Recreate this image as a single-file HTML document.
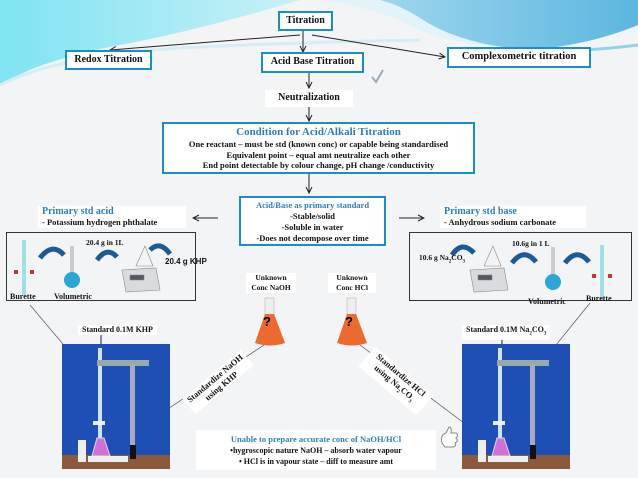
<!DOCTYPE html>
<html><head><meta charset="utf-8"><style>
*{margin:0;padding:0;box-sizing:border-box}
body{width:638px;height:478px;overflow:hidden;background:#f3f4f5;position:relative;font-family:"Liberation Serif",serif;font-weight:bold;color:#111}
.a{position:absolute}
.bx{position:absolute;background:#fff;border:2.5px solid #1a8fc4;text-align:center;font-size:10px;line-height:11px}
.t{position:absolute;font-size:8.5px;line-height:10px;text-align:center;white-space:nowrap}
.blue{color:#2a7fc0}
</style></head><body>
<svg class="a" style="left:0;top:0" width="638" height="478">
<defs><linearGradient id="g1" x1="0" y1="0" x2="1" y2="0"><stop offset="0" stop-color="#7fe3f2"/><stop offset="1" stop-color="#c9f1f7"/></linearGradient>
<linearGradient id="g2" x1="0" y1="0" x2="1" y2="0"><stop offset="0" stop-color="#9ed6ee"/><stop offset="1" stop-color="#5cb6e0"/></linearGradient>
<marker id="ar" markerWidth="8" markerHeight="8" refX="7" refY="4" orient="auto"><path d="M1,1 L7,4 L1,7" fill="none" stroke="#222" stroke-width="1"/></marker></defs>
<path d="M0,0 H300 Q200,30 120,45 Q40,60 0,85 Z" fill="url(#g1)"/>
<path d="M0,85 Q60,55 180,48 Q300,42 420,40" fill="none" stroke="#d4eef5" stroke-width="3"/>
<path d="M320,0 H638 V20 Q600,40 520,48 Q440,45 400,20 Q360,5 320,0 Z" fill="#e2f4fa"/>
<path d="M380,0 H638 V25 Q590,45 530,50 Q460,45 420,18 Q400,5 380,0 Z" fill="url(#g2)"/>
<path d="M638,45 Q560,55 470,50" fill="none" stroke="#8fd3ee" stroke-width="3"/>
<g stroke="#222" stroke-width="1" fill="none" marker-end="url(#ar)">
<line x1="300" y1="35" x2="110" y2="50"/>
<line x1="312" y1="35" x2="445" y2="57"/>
<line x1="303" y1="31" x2="303" y2="52"/>
<line x1="309" y1="72" x2="309" y2="88"/>
<line x1="309" y1="106" x2="309" y2="121"/>
<line x1="309" y1="173" x2="309" y2="193"/>
<line x1="218" y1="218" x2="193" y2="218"/>
<line x1="399" y1="218" x2="424" y2="218"/>
<line x1="101" y1="334" x2="101" y2="354"/>
<line x1="502" y1="334" x2="502" y2="358"/>
</g>
<g stroke="#555" stroke-width="0.7" fill="none">
<line x1="30" y1="305" x2="100" y2="388"/>
<line x1="264" y1="345" x2="106" y2="450"/>
<line x1="360" y1="345" x2="500" y2="450"/>
<line x1="590" y1="303" x2="505" y2="408"/>
</g>
<rect x="62" y="344" width="108" height="125" fill="#1e4fb4"/>
<rect x="462" y="344" width="108" height="125" fill="#1e4fb4"/>
<g id="ph">
<rect x="62" y="455" width="108" height="14" fill="#8a5a3a"/>
<rect x="98" y="348" width="4" height="100" fill="#cfe4ef"/>
<rect x="97" y="360" width="52" height="6" fill="#9aa"/>
<rect x="130" y="364" width="5" height="95" fill="#aab"/>
<rect x="130" y="445" width="6" height="14" fill="#111"/>
<rect x="93" y="421" width="12" height="4" fill="#eee"/>
<path d="M97,438 L92,456 H110 L104,438 Z" fill="#d070d8" stroke="#ddd"/>
<rect x="78" y="440" width="8" height="22" fill="#eee"/>
<rect x="88" y="456" width="40" height="6" fill="#eee"/>
</g>
<use href="#ph" x="400"/>
<g id="fl"><rect x="265" y="298" width="9" height="18" fill="#eee" stroke="#aaa" stroke-width="0.5"/>
<path d="M265,314 L255,343 Q270,348 285,343 L274,314 Z" fill="#ec6a2e"/>
<text x="263" y="326" font-size="13" font-family="Liberation Sans" font-weight="bold">?</text></g>
<use href="#fl" x="82"/>
<g stroke="#1a5a96" stroke-width="5" fill="none">
<path d="M40,258 Q52,242 64,255"/><path d="M97,260 Q107,246 117,257"/><path d="M170,254 Q160,240 150,250"/>
<path d="M452,255 Q462,240 474,253"/><path d="M512,263 Q524,247 536,262"/><path d="M565,263 Q577,247 589,262"/>
</g>
<g fill="#2aa6d8"><rect x="70" y="246" width="4" height="30" fill="#ccc"/><circle cx="72" cy="280" r="8"/>
<rect x="551" y="247" width="4" height="30" fill="#ccc"/><circle cx="553" cy="282" r="8"/></g>
<rect x="22" y="240" width="4" height="55" fill="#9fe0e6"/><rect x="14" y="270" width="4" height="4" fill="#c33"/><rect x="30" y="270" width="4" height="4" fill="#c33"/>
<rect x="600" y="245" width="4" height="55" fill="#9fe0e6"/><rect x="592" y="274" width="4" height="4" fill="#c33"/><rect x="608" y="274" width="4" height="4" fill="#c33"/>
<g fill="#d9dcdf" stroke="#888" stroke-width="0.6">
<path d="M122,270 L156,268 L160,290 L126,292 Z"/><rect x="130" y="275" width="14" height="5" fill="#556"/><path d="M136,266 L145,246 L153,266 Z" fill="#f4f4f4"/>
<path d="M470,270 L504,268 L508,290 L474,292 Z"/><rect x="478" y="275" width="14" height="5" fill="#556"/><path d="M484,266 L493,246 L501,266 Z" fill="#f4f4f4"/>
</g>
<path d="M372,77 L376,82 L383,70" stroke="#9ab" stroke-width="2" fill="none"/>
<g stroke="#888" fill="#fff" stroke-width="1"><path d="M442,443 q-2,-8 4,-10 l3,-6 q3,0 2,6 h5 q3,2 0,5 q3,3 -1,5 q2,3 -2,4 h-8 z"/></g>
</svg>

<div class="bx" style="left:278px;top:11px;width:55px;height:20px;line-height:15px">Titration</div>
<div class="bx" style="left:65px;top:50px;width:87px;height:20px;line-height:15px">Redox Titration</div>
<div class="bx" style="left:261px;top:52px;width:103px;height:21px;line-height:16px">Acid Base Titration</div>
<div class="bx" style="left:447px;top:47px;width:144px;height:21px;line-height:16px;font-size:10.5px">Complexometric titration</div>
<div class="t" style="left:265px;top:90px;width:88px;font-size:10px;background:#fff;height:17px;line-height:15px">Neutralization</div>
<div class="bx" style="left:162px;top:122px;width:313px;height:52px;padding-top:2px;font-size:8.5px;line-height:10.5px">
<div class="blue" style="font-size:11px;line-height:13px">Condition for Acid/Alkali Titration</div>
One reactant – must be std (known conc) or capable being standardised<br>Equivalent point – equal amt neutralize each other<br>End point detectable by colour change, pH change /conductivity</div>
<div class="bx" style="left:239px;top:196px;width:147px;height:50px;padding-top:2px;font-size:8.5px;line-height:11px"><div class="blue">Acid/Base as primary standard</div>-Stable/solid<br>-Soluble in water<br>-Does not decompose over time</div>

<div class="t" style="left:38px;top:206px;text-align:left;background:#fff;padding:0 4px;width:148px;line-height:11px"><span class="blue" style="font-size:10px">Primary std acid</span><br>- Potassium hydrogen phthalate</div>
<div class="t" style="left:440px;top:206px;text-align:left;background:#fff;padding:0 4px;width:146px;line-height:11px"><span class="blue" style="font-size:10px">Primary std base</span><br>- Anhydrous sodium carbonate</div>
<div class="a" style="left:6px;top:232px;width:190px;height:69px;border:1.5px solid #333"></div>
<div class="a" style="left:409px;top:232px;width:223px;height:69px;border:1.5px solid #333"></div>
<div class="t" style="left:86px;top:238px;font-size:7.5px">20.4 g in 1L</div>
<div class="t" style="left:165px;top:257px;font-family:'Liberation Sans',sans-serif;font-size:8px">20.4 g KHP</div>
<div class="t" style="left:10px;top:292px;font-size:8px">Burette</div>
<div class="t" style="left:54px;top:292px;font-size:8px">Volumetric</div>
<div class="t" style="left:419px;top:253px;font-size:7.5px">10.6 g Na<sub style="font-size:5px">2</sub>CO<sub style="font-size:5px">3</sub></div>
<div class="t" style="left:512px;top:239px;font-size:7.5px">10.6g in 1 L</div>
<div class="t" style="left:528px;top:297px;font-size:8px">Volumetric</div>
<div class="t" style="left:586px;top:294px;font-size:8px">Burette</div>
<div class="t" style="left:246px;top:273px;width:50px;background:#fff;font-size:7.5px">Unknown<br>Conc NaOH</div>
<div class="t" style="left:328px;top:273px;width:48px;background:#fff;font-size:7.5px">Unknown<br>Conc HCl</div>
<div class="t" style="left:78px;top:325px;background:#fff;padding:0 4px;font-size:8px">Standard 0.1M KHP</div>
<div class="t" style="left:462px;top:325px;background:#fff;padding:0 4px;font-size:8px">Standard 0.1M Na<sub style="font-size:5px">2</sub>CO<sub style="font-size:5px">3</sub></div>
<div class="t" style="left:180px;top:372px;width:76px;background:#fff;font-size:8.5px;transform:rotate(-40deg)">Standardize NaOH<br>using KHP</div>
<div class="t" style="left:358px;top:368px;width:76px;background:#fff;font-size:8.5px;transform:rotate(40deg)">Standardize HCl<br>using Na<sub style="font-size:5px">2</sub>CO<sub style="font-size:5px">3</sub></div>
<div class="t" style="left:196px;top:430px;width:240px;background:#fff;height:40px;padding-top:4px;font-size:8px;line-height:11px"><span class="blue" style="font-size:8.5px">Unable to prepare accurate conc of NaOH/HCl</span><br>•hygroscopic nature NaOH – absorb water vapour<br>• HCl is in vapour state – diff to measure amt</div>
</body></html>
